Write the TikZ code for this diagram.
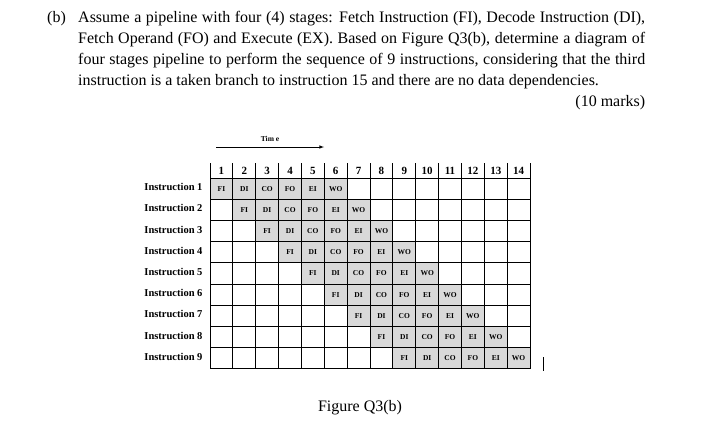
\documentclass[tikz,border=0pt]{standalone}
\usepackage{fontspec}
\setmainfont{Liberation Serif}
\begin{document}
\begin{tikzpicture}[x=1pt,y=-1pt,
  cell/.style={font=\fontsize{7.5}{8}\selectfont\bfseries},
  hdr/.style={font=\fontsize{11}{12}\selectfont\bfseries},
  lbl/.style={font=\fontsize{10.5}{12}\selectfont\bfseries,anchor=east}]
\useasboundingbox (0,0) rectangle (706,440);
\node[anchor=base west,inner sep=0pt,font=\fontsize{16}{21}\selectfont] (b) at (47,22) {(b)};
\node[anchor=base west,inner sep=0pt,font=\fontsize{16}{21}\selectfont] (para) at (78,22) {\parbox[t]{567pt}{Assume a pipeline with four (4) stages: Fetch Instruction (FI), Decode Instruction (DI), Fetch Operand (FO) and Execute (EX). Based on Figure Q3(b), determine a diagram of four stages pipeline to perform the sequence of 9 instructions, considering that the third instruction is a taken branch to instruction 15 and there are no data dependencies.\par\hfill(10 marks)}};
\node[font=\fontsize{7.5}{8}\selectfont\bfseries] (time) at (270,139) {Tim e};
\coordinate (t0) at (216,147); \coordinate (t1) at (324,147);
\draw[-latex,line width=0.6pt] (t0) -- (t1);
\def\cw{22.86}\def\rh{21.2}
\foreach \r in {1,...,9}{
  \foreach \s [count=\k] in {FI,DI,CO,FO,EI,WO}{
    \pgfmathsetmacro\c{\r+\k-2}
    \fill[gray!30] (210+\c*\cw,178+\r*\rh-\rh) rectangle ++(\cw,\rh);
    \node[cell] at (210+\c*\cw+\cw/2,178+\r*\rh-\rh/2) {\s};
  }
  \node[lbl] at (206,178+\r*\rh-\rh/2-1.5) {Instruction \r};
}
\foreach \i in {0,...,14}{ \draw[line width=0.9pt] (210+\i*\cw,163) -- (210+\i*\cw,369); }
\foreach \j in {0,...,9}{ \draw[line width=0.9pt] (210,178+\j*\rh) -- (530,178+\j*\rh); }
\foreach \i in {1,...,14}{ \node[hdr] at (210+\i*\cw-\cw/2,170.5) {\i}; }
\coordinate (c0) at (543,357); \coordinate (c1) at (543,371);
\draw[line width=0.6pt] (c0) -- (c1);
\node[font=\fontsize{16}{21}\selectfont] (fig) at (360,408) {Figure Q3(b)};
\end{tikzpicture}
\end{document}
